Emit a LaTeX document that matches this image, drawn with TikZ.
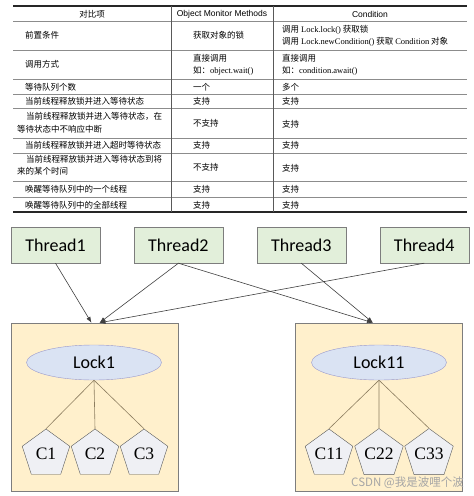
\documentclass[tikz,border=0pt]{standalone}
\usepackage{fontspec}
\setmainfont{Liberation Serif}
\newfontfamily\cjkfont{Noto Sans CJK SC}
\newfontfamily\calfont{Carlito}
\newfontfamily\arlfont{Liberation Sans}
\usetikzlibrary{
  arrows.meta,
  positioning,
  shapes.geometric
}
\definecolor{threadgreen}{RGB}{226,239,218}
\definecolor{lockyellow}{RGB}{255,240,204}
\definecolor{lockblue}{RGB}{218,227,243}
\definecolor{condgrey}{RGB}{239,240,244}
\definecolor{rulegrey}{RGB}{125,125,125}
\definecolor{linkbrown}{RGB}{140,125,95}
\newcommand{\en}[1]{{\rmfamily #1}}

\begin{document}
\begin{tikzpicture}[x=1pt,y=-1pt,
  cell/.style={anchor=west,inner sep=0pt,align=left,
               font=\cjkfont\fontsize{8.5}{12.5}\selectfont},
  head/.style={inner sep=0pt,font=\arlfont\fontsize{8.5}{10}\selectfont},
  rule/.style={draw=black!45,line width=0.9pt},
  bigrule/.style={draw=black!85,line width=1.6pt},
  thread/.style={draw=rulegrey,fill=threadgreen,minimum width=89pt,minimum height=36pt,
                 inner sep=0pt,font=\calfont\fontsize{18}{20}\selectfont},
  lockbox/.style={draw=rulegrey,fill=lockyellow,minimum width=167pt,minimum height=168pt},
  lock/.style={draw=black!50!blue!40,ellipse,fill=lockblue,minimum width=135pt,
               minimum height=35pt,inner sep=0pt,font=\calfont\fontsize{18}{20}\selectfont},
  cond/.style={draw=black!65,regular polygon,regular polygon sides=5,minimum size=50pt,
               inner sep=0pt,fill=condgrey,font=\rmfamily\fontsize{17.5}{18}\selectfont},
  arr/.style={-{Latex[length=6pt,width=4.5pt]},draw=black!75,line width=0.6pt},
  link/.style={draw=linkbrown,line width=0.6pt},
]
\useasboundingbox (0,0) rectangle (474,496);

\draw[bigrule] (13,6) -- (467,6);
\draw[rule] (13,21) -- (467,21);
\foreach \ry in {50,79,94,108,138,153,181,197}
  \draw[rule] (13,\ry) -- (467,\ry);
\draw[bigrule] (13,212) -- (467,212);
\draw[draw=black!65,line width=0.8pt] (171,6) -- (171,212);
\draw[draw=black!65,line width=0.8pt] (273,6) -- (273,212);

\node[head,font=\cjkfont\fontsize{8.5}{10}\selectfont] (hA) at (92,14) {对比项};
\node[head] (hB) at (222,14) {Object Monitor Methods};
\node[head] (hC) at (370,14) {Condition};

\node[cell] (r1a) at (25,35)  {前置条件};
\node[cell] (r1b) at (193,35) {获取对象的锁};
\node[cell] (r1c) at (282,36) {调用 \en{Lock.lock()} 获取锁\\
                               调用 \en{Lock.newCondition()} 获取 \en{Condition} 对象};
\node[cell] (r2a) at (25,64)  {调用方式};
\node[cell] (r2b) at (193,65) {直接调用\\如：\en{object.wait()}};
\node[cell] (r2c) at (282,65) {直接调用\\如：\en{condition.await()}};
\node[cell] (r3a) at (25,87)  {等待队列个数};
\node[cell] (r3b) at (193,87) {一个};
\node[cell] (r3c) at (282,87) {多个};
\node[cell] (r4a) at (25,101)  {当前线程释放锁并进入等待状态};
\node[cell] (r4b) at (193,101) {支持};
\node[cell] (r4c) at (282,101) {支持};
\node[cell] (r5a) at (17,123)  {\hspace*{9pt}当前线程释放锁并进入等待状态，在\\等待状态中不响应中断};
\node[cell] (r5b) at (193,123) {不支持};
\node[cell] (r5c) at (282,124) {支持};
\node[cell] (r6a) at (25,145)  {当前线程释放锁并进入超时等待状态};
\node[cell] (r6b) at (193,145) {支持};
\node[cell] (r6c) at (282,145) {支持};
\node[cell] (r7a) at (17,165)  {\hspace*{9pt}当前线程释放锁并进入等待状态到将\\来的某个时间};
\node[cell] (r7b) at (193,167) {不支持};
\node[cell] (r7c) at (282,168) {支持};
\node[cell] (r8a) at (25,189)  {唤醒等待队列中的一个线程};
\node[cell] (r8b) at (193,189) {支持};
\node[cell] (r8c) at (282,189) {支持};
\node[cell] (r9a) at (25,205)  {唤醒等待队列中的全部线程};
\node[cell] (r9b) at (193,205) {支持};
\node[cell] (r9c) at (282,205) {支持};

\node[thread] (th1) at (55.5,245) {Thread1};
\node[thread,right=33.5pt of th1] (th2) {Thread2};
\node[thread,right=33.5pt of th2] (th3) {Thread3};
\node[thread,right=33.5pt of th3] (th4) {Thread4};

\node[lockbox] (box1) at (94.5,407) {};
\node[lockbox] (box2) at (379,407) {};

\node[lock] (lk1)  at (94,362.5)  {Lock1};
\node[lock] (lk11) at (379,362.5) {Lock11};

\node[cond] (c1)  at (46,454)  {C1};
\node[cond] (c2)  at (95,454)  {C2};
\node[cond] (c3)  at (144,454) {C3};
\node[cond] (c11) at (329,454) {C11};
\node[cond] (c22) at (379,454) {C22};
\node[cond] (c33) at (429,454) {C33};

\draw[arr] (th1.south) -- ([xshift=-3pt]box1.north);
\draw[arr] (th2.south) -- ([xshift=5pt]box1.north);
\draw[arr] (th4.south) -- ([xshift=5pt]box1.north);
\draw[arr] (th2.south) -- ([xshift=-6pt]box2.north);
\draw[arr] (th3.south) -- ([xshift=-6pt]box2.north);

\foreach \c in {c1,c2,c3}
  \draw[link] (lk1.south) -- (\c.north);
\foreach \c in {c11,c22,c33}
  \draw[link] (lk11.south) -- (\c.north);

\node[anchor=east,inner sep=0pt,text=black!35,font=\cjkfont\fontsize{11.5}{12}\selectfont]
  (wmark) at (464,483) {CSDN @我是波哩个波};
\end{tikzpicture}
\end{document}
